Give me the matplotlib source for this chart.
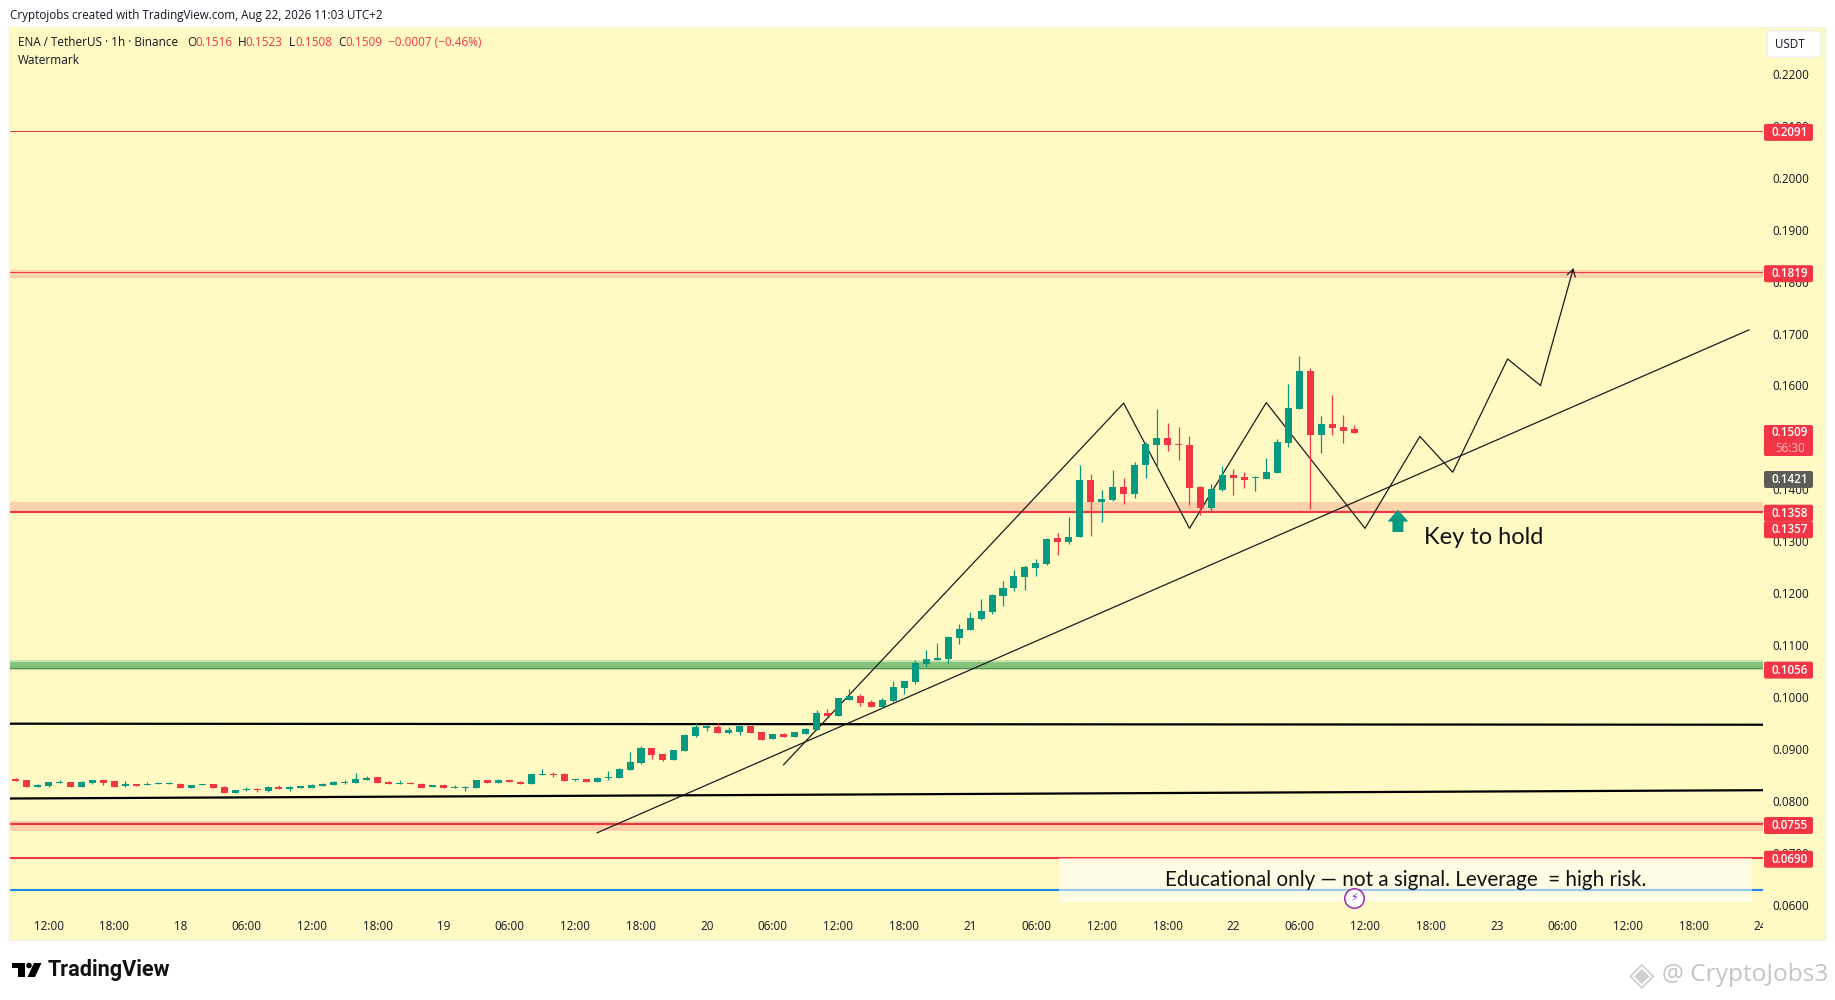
import numpy as np
import matplotlib
matplotlib.use('Agg')
import matplotlib.pyplot as plt
from matplotlib.patches import Rectangle, FancyBboxPatch, Polygon, Circle
from matplotlib.transforms import Bbox, IdentityTransform

W, H = 1835, 1000
plt.rcParams['font.family'] = ['Open Sans', 'DejaVu Sans']

# hourly candles, hours counted from Aug 17 00:00
first_hour = 9
opens = [.0843, .0841, .0827, .0829, .0835, .0837, .0827, .0835, .0841, .0839,
         .0829, .0833, .0831, .0833, .0833, .0833, .0825, .0831, .0833, .0827,
         .0816, .0821, .0823, .0820, .0827, .0823, .0825, .0825, .0829, .0831,
         .0835, .0835, .0841, .0846, .0837, .0833, .0835, .0833, .0827, .0831,
         .0825, .0825, .0825, .0841, .0835, .0841, .0837, .0833, .0850, .0852,
         .0852, .0841, .0843, .0837, .0845, .0845, .0860, .0873, .0902, .0891,
         .0879, .0896, .0925, .0941, .0943, .0931, .0933, .0945, .0933, .0920,
         .0929, .0923, .0929, .0937, .0970, .0964, .0995, .1002, .0991, .0981,
         .0993, .1018, .1029, .1064, .1072, .1074, .1114, .1130, .1151, .1164,
         .1195, .1210, .1232, .1249, .1257, .1307, .1299, .1309, .1418, .1376,
         .1380, .1405, .1391, .1447, .1486, .1499, .1488, .1486, .1405, .1364,
         .1399, .1428, .1424, .1422, .1420, .1432, .1490, .1555, .1628, .1505,
         .1526, .1520, .1516]
highs = [.0845, .0841, .0833, .0837, .0840, .0837, .0839, .0841, .0841, .0839,
         .0839, .0833, .0837, .0837, .0837, .0835, .0831, .0833, .0833, .0829,
         .0821, .0827, .0825, .0829, .0831, .0829, .0829, .0833, .0835, .0839,
         .0841, .0854, .0848, .0846, .0839, .0841, .0837, .0835, .0831, .0833,
         .0831, .0829, .0841, .0841, .0843, .0841, .0839, .0852, .0862, .0856,
         .0854, .0843, .0843, .0846, .0858, .0864, .0895, .0906, .0902, .0891,
         .0898, .0929, .0950, .0948, .0950, .0943, .0945, .0945, .0933, .0929,
         .0931, .0933, .0941, .0975, .0977, .0999, .1016, .1006, .0995, .0999,
         .1031, .1031, .1072, .1091, .1105, .1118, .1141, .1164, .1189, .1199,
         .1224, .1245, .1255, .1266, .1307, .1316, .1347, .1447, .1430, .1399,
         .1438, .1422, .1453, .1491, .1555, .1528, .1520, .1503, .1407, .1411,
         .1445, .1439, .1434, .1426, .1461, .1497, .1603, .1657, .1634, .1542,
         .1582, .1543, .1523]
lows = [.0839, .0827, .0827, .0827, .0835, .0827, .0827, .0833, .0831, .0827,
        .0827, .0829, .0831, .0833, .0833, .0825, .0825, .0831, .0825, .0816,
        .0816, .0820, .0818, .0818, .0823, .0820, .0825, .0825, .0829, .0831,
        .0833, .0835, .0841, .0835, .0833, .0833, .0833, .0825, .0827, .0825,
        .0825, .0820, .0825, .0835, .0835, .0837, .0833, .0833, .0850, .0846,
        .0839, .0839, .0837, .0837, .0841, .0845, .0860, .0871, .0881, .0877,
        .0879, .0896, .0923, .0935, .0931, .0929, .0927, .0931, .0918, .0920,
        .0923, .0923, .0929, .0937, .0964, .0964, .0995, .0983, .0981, .0979,
        .0991, .1006, .1026, .1058, .1072, .1066, .1103, .1130, .1149, .1160,
        .1176, .1205, .1207, .1234, .1255, .1274, .1295, .1309, .1310, .1337,
        .1378, .1372, .1384, .1422, .1441, .1474, .1457, .1370, .1351, .1359,
        .1397, .1389, .1403, .1397, .1420, .1432, .1482, .1555, .1362, .1470,
        .1505, .1490, .1508]
closes = [.0839, .0827, .0831, .0837, .0837, .0827, .0837, .0841, .0835, .0827,
          .0833, .0829, .0833, .0835, .0835, .0825, .0831, .0833, .0825, .0816,
          .0821, .0824, .0821, .0827, .0823, .0827, .0829, .0831, .0833, .0837,
          .0837, .0843, .0845, .0835, .0833, .0835, .0833, .0825, .0831, .0825,
          .0827, .0827, .0841, .0835, .0841, .0837, .0833, .0852, .0852, .0850,
          .0839, .0843, .0837, .0845, .0846, .0862, .0875, .0902, .0889, .0879,
          .0898, .0927, .0943, .0945, .0931, .0937, .0945, .0931, .0918, .0929,
          .0923, .0933, .0939, .0970, .0964, .0999, .1002, .0989, .0981, .0995,
          .1020, .1031, .1066, .1074, .1076, .1116, .1131, .1153, .1166, .1197,
          .1210, .1234, .1251, .1259, .1305, .1299, .1309, .1418, .1376, .1382,
          .1405, .1391, .1447, .1488, .1499, .1486, .1486, .1403, .1364, .1401,
          .1428, .1422, .1418, .1424, .1434, .1491, .1557, .1628, .1505, .1526,
          .1518, .1513, .1509]

# drawn lines
trend_t = [62, 167]
trend_p = [.0739, .1707]
zigzag_t = [79, 110, 116, 123, 132, 137, 140, 145, 148, 151]
zigzag_p = [.0870, .1566, .1325, .1567, .1325, .1502, .1433, .1651, .1600, .1826]
black_upper = [.0949, .0947]
black_lower = [.0805, .0821]

# price levels and the zones around them
level_2091 = .2089
level_1819 = .1819
zone_1819 = (.1807, .1823)
level_1357 = .1357
zone_1357 = (.1358, .1376)
level_1056 = .1056
zone_1056_outer = (.1053, .1072)
zone_1056_inner = (.1056, .1068)
level_0755 = .0755
zone_0755 = (.0743, .0762)
level_0690 = .0690
level_blue = .0628

badge_values = ['0.2091', '0.1819', '0.1358', '0.1357', '0.1056', '0.0755', '0.0690']
badge_prices = [.2091, .1819, .1358, .1357, .1056, .0755, .0690]
badge_shift = [2, 2, 2, 18, 2, 1, 1]

y_ticks = [.06, .07, .08, .09, .10, .11, .12, .13, .14, .15, .16, .17, .18, .19, .20, .21, .22]
x_hours = list(range(12, 169, 6))
x_labels = ['12:00', '18:00', '18', '06:00', '12:00', '18:00', '19', '06:00', '12:00',
            '18:00', '20', '06:00', '12:00', '18:00', '21', '06:00', '12:00', '18:00',
            '22', '06:00', '12:00', '18:00', '23', '06:00', '12:00', '18:00', '24']

YELLOW = '#FFF9C4'
RED = '#F23645'
GREEN = '#089981'
PEACH = '#FDD1A9'
INK = '#131722'


def fx(x):
    return x / W


def fy(y):
    return 1 - y / H


fig = plt.figure(figsize=(W / 100, H / 100), dpi=100, facecolor='white')
fig.add_artist(Rectangle((fx(9), fy(940)), fx(1816), 913 / H, facecolor=YELLOW,
                         edgecolor='#F0F0F0', linewidth=1, transform=fig.transFigure, zorder=-1))
ax = fig.add_axes([fx(10), fy(918), fx(1753), 891 / H])
ax.set_facecolor(YELLOW)
for s in ax.spines.values():
    s.set_visible(False)
ax.set_xlim(8.48, 168.28)
ax.set_ylim(.0575, .2290)

# zones
for low, high in [zone_1819, zone_1357, zone_0755]:
    ax.axhspan(low, high, color=PEACH, lw=0, zorder=1)
ax.axhspan(*zone_1056_outer, color='#CBE5B2', lw=0, zorder=1)
ax.axhspan(*zone_1056_inner, color='#85C37B', lw=0, zorder=1)

# levels
ax.axhline(level_2091, color=RED, lw=0.72, zorder=2)
ax.axhline(level_1819, color=RED, lw=0.72, zorder=2)
ax.axhline(level_1357, color=RED, lw=1.5, zorder=2)
ax.axhline(level_1056, color='#5E9158', lw=0.9, zorder=2)
ax.axhline(level_0755, color=RED, lw=1.5, zorder=2)
ax.axhline(level_0690, color=RED, lw=1.5, zorder=2)
ax.axhline(level_blue, color='#1E88E5', lw=1.5, zorder=2)

ax.plot(ax.get_xlim(), black_upper, color='black', lw=1.6, zorder=3)
ax.plot(ax.get_xlim(), black_lower, color='black', lw=1.6, zorder=3)
ax.plot(trend_t, trend_p, color='#1c1c1c', lw=0.9, zorder=3)
ax.plot(zigzag_t[:-1], zigzag_p[:-1], color='#1c1c1c', lw=0.9, zorder=3)
ax.annotate('', xy=(zigzag_t[-1], zigzag_p[-1]), xytext=(zigzag_t[-2], zigzag_p[-2]),
            arrowprops=dict(arrowstyle='->,head_length=0.5,head_width=0.3', color='#1c1c1c',
                            lw=0.9, shrinkA=0, shrinkB=0), zorder=3)

# candles
hours = np.arange(first_hour, first_hour + len(opens))
o = np.array(opens)
c = np.array(closes)
colors = [GREEN if b >= a else RED for a, b in zip(o, c)]
ax.vlines(hours, lows, highs, colors=colors, lw=0.9, zorder=4)
ax.bar(hours, np.abs(c - o), bottom=np.minimum(o, c), width=0.64, color=colors, lw=0, zorder=4)

# key level marker and notes
ax.annotate('', xy=(135, .1361), xytext=(135, .1318),
            arrowprops=dict(width=7.9, headwidth=15, headlength=8.6, color=GREEN, lw=0,
                            shrink=0), zorder=5)
ax.text(137.4, .1307, 'Key to hold', fontsize=17, family='Lato', color='#111111', va='center', zorder=6)
ax.add_patch(Rectangle((104.1, .0606), 63.2, .0085, facecolor='white', alpha=0.55, lw=0, zorder=6))
ax.text(135.7, .0649, 'Educational only \u2014 not a signal. Leverage  = high risk.', fontsize=14.9,
        family='Lato', color='#111111', ha='center', va='center', zorder=7)
ax.plot([131], [.0613], marker='o', ms=14, mfc='white', mec='#9C27B0', mew=1.1, zorder=8, clip_on=False)
ax.text(131, .0613, '\u26A1', fontsize=8, color='#7B1FA2', ha='center', va='center', zorder=9,
        family='DejaVu Sans')

# axes labels
ax.yaxis.tick_right()
ax.set_yticks(y_ticks)
ax.set_yticklabels(['%.4f' % v for v in y_ticks])
ax.set_xticks(x_hours)
ax.set_xticklabels(x_labels)
ax.tick_params(axis='y', length=0, pad=6.5, labelsize=8.4, labelcolor=INK)
ax.tick_params(axis='x', length=0, pad=1.5, labelsize=8.4, labelcolor=INK)
clip = Bbox([[0, 0], [1763, H]])
for lab in ax.get_xticklabels():
    lab.set_clip_box(clip)
    lab.set_clip_on(True)

# price badges
ident = IdentityTransform()


def badge(y_top, height, color, zorder=10):
    fig.add_artist(FancyBboxPatch((1764, H - y_top - height), 49, height,
                                  boxstyle='round,pad=0,rounding_size=2',
                                  facecolor=color, edgecolor='none', transform=ident, zorder=zorder))


for val, price, shift in zip(badge_values, badge_prices, badge_shift):
    yc = H - ax.transData.transform((0, price))[1] + shift
    badge(yc - 8.5, 17, RED)
    fig.text(fx(1790), fy(yc), val, fontsize=8.4, color='white', weight='semibold', ha='center',
             va='center', zorder=11)

badge(425, 31, RED)
fig.text(fx(1790), fy(433), '0.1509', fontsize=8.4, color='white', weight='semibold', ha='center',
         va='center', zorder=11)
fig.text(fx(1790), fy(448), '56:30', fontsize=8.4, color='#FFB8BE', ha='center', va='center', zorder=11)
badge(471, 17, '#5D5D58')
fig.text(fx(1790), fy(479.5), '0.1421', fontsize=8.4, color='white', weight='semibold', ha='center',
         va='center', zorder=11)

# unit box
fig.add_artist(FancyBboxPatch((1767, H - 57), 54, 26, boxstyle='round,pad=0,rounding_size=3',
                              facecolor='white', edgecolor='#E8EAF0', lw=0.8, transform=ident, zorder=10))
fig.text(fx(1790), fy(45), 'USDT', fontsize=8.4, color=INK, ha='center', va='center', zorder=11)

# header and legend text
fig.text(fx(10), fy(15), 'Cryptojobs created with TradingView.com, Aug 22, 2026 11:03 UTC+2',
         fontsize=8.4, color=INK, va='center')
fig.text(fx(18), fy(43), 'ENA / TetherUS \u00b7 1h \u00b7 Binance', fontsize=8.5, color=INK, va='center')
legend_letters = [('O', 187), ('H', 238), ('L', 289), ('C', 338)]
legend_values = [('0.1516', 195), ('0.1523', 245), ('0.1508', 295), ('0.1509', 345),
                 ('\u22120.0007 (\u22120.46%)', 388)]
for txt, x in legend_letters:
    fig.text(fx(x), fy(43), txt, fontsize=8.5, color=INK, va='center')
for txt, x in legend_values:
    fig.text(fx(x), fy(43), txt, fontsize=8.5, color=RED, va='center')
fig.text(fx(18), fy(60), 'Watermark', fontsize=8.5, color=INK, va='center')

# TradingView logo
for art in [Rectangle((12, H - 968), 13, 5.5), Rectangle((18, H - 977), 7, 9),
            Circle((29, H - 965.5), 2.8),
            Polygon([(34, H - 963), (41.5, H - 963), (35, H - 977), (27.5, H - 977)])]:
    art.set(facecolor='black', edgecolor='none', transform=ident)
    fig.add_artist(art)
fig.text(fx(48), fy(970), 'TradingView', fontsize=15.6, weight='bold', color='#111111', va='center',
         family='Roboto')

# watermark
fig.text(fx(1642), fy(975), '\u25C8', fontsize=24, color='#CFCFCF', ha='center', va='center',
         family='DejaVu Sans')
fig.text(fx(1662), fy(975), '@ CryptoJobs3', fontsize=17.6, color='#C4C4C4', va='center')

fig.savefig('out.png', dpi=100)
